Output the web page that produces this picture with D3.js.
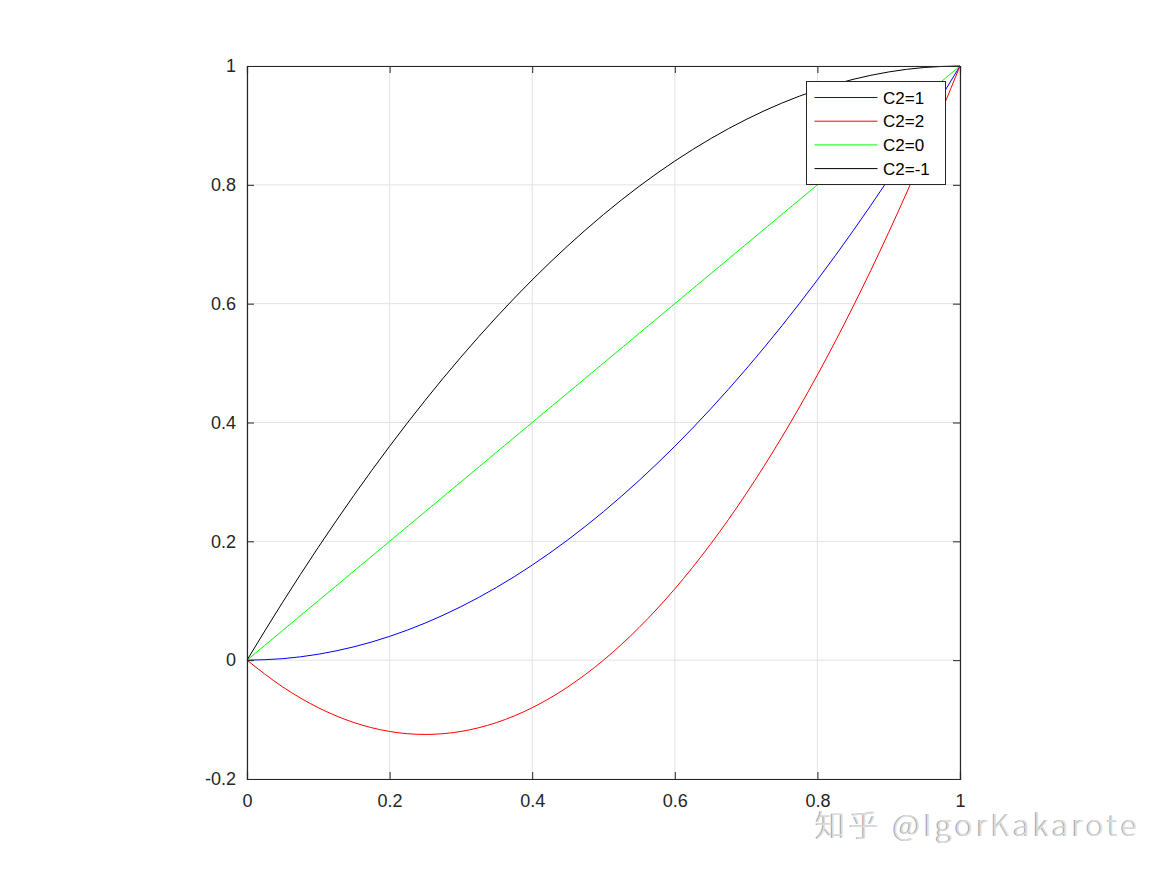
<!DOCTYPE html>
<html lang="en">
  <head>
    <meta charset="UTF-8" />
    <title>C2 curves</title>
    <style>
      body { margin: 0; background: #fff; }
      svg { display: block; font-family: "Liberation Sans", Arial, sans-serif; }
    </style>
  </head>
  <body>
    <div id="chart"></div>
    <script src="https://d3js.org/d3.v7.min.js"></script>
    <script>
      const xs = [0, 0.05, 0.1, 0.15, 0.2, 0.25, 0.3, 0.35, 0.4, 0.45, 0.5,
                  0.55, 0.6, 0.65, 0.7, 0.75, 0.8, 0.85, 0.9, 0.95, 1];
      const c2One = [0, 0.0025, 0.01, 0.0225, 0.04, 0.0625, 0.09, 0.1225, 0.16, 0.2025, 0.25,
                     0.3025, 0.36, 0.4225, 0.49, 0.5625, 0.64, 0.7225, 0.81, 0.9025, 1];
      const c2Two = [0, -0.045, -0.08, -0.105, -0.12, -0.125, -0.12, -0.105, -0.08, -0.045, 0,
                     0.055, 0.12, 0.195, 0.28, 0.375, 0.48, 0.595, 0.72, 0.855, 1];
      const c2Zero = [0, 0.05, 0.1, 0.15, 0.2, 0.25, 0.3, 0.35, 0.4, 0.45, 0.5,
                      0.55, 0.6, 0.65, 0.7, 0.75, 0.8, 0.85, 0.9, 0.95, 1];
      const c2MinusOne = [0, 0.0975, 0.19, 0.2775, 0.36, 0.4375, 0.51, 0.5775, 0.64, 0.6975, 0.75,
                          0.7975, 0.84, 0.8775, 0.91, 0.9375, 0.96, 0.9775, 0.99, 0.9975, 1];
      const seriesNames = ["C2=1", "C2=2", "C2=0", "C2=-1"];
      const seriesColors = ["#0000ff", "#ff0000", "#00ff00", "#000000"];
      const xTicks = [0, 0.2, 0.4, 0.6, 0.8, 1];
      const yTicks = [-0.2, 0, 0.2, 0.4, 0.6, 0.8, 1];

      const series = [c2One, c2Two, c2Zero, c2MinusOne].map((ys, i) => ({
        name: seriesNames[i],
        color: seriesColors[i],
        points: xs.map((x, j) => [x, ys[j]])
      }));

      const W = 1167, H = 875;
      const plotL = 247, plotR = 960, plotT = 66, plotB = 779;

      const x = d3.scaleLinear().domain([0, 1]).range([plotL, plotR]);
      const y = d3.scaleLinear().domain([-0.2, 1]).range([plotB, plotT]);
      const fmt = d => String(+d.toFixed(1)); // plain hyphen minus, like MATLAB

      const svg = d3.select("#chart").append("svg")
        .attr("width", W).attr("height", H);

      // grid
      svg.append("g").selectAll("line").data(xTicks).join("line")
        .attr("x1", d => x(d)).attr("x2", d => x(d))
        .attr("y1", plotT).attr("y2", plotB)
        .attr("stroke", "#e3e3e3").attr("stroke-width", 1);
      svg.append("g").selectAll("line").data(yTicks).join("line")
        .attr("y1", d => y(d)).attr("y2", d => y(d))
        .attr("x1", plotL).attr("x2", plotR)
        .attr("stroke", "#e3e3e3").attr("stroke-width", 1);

      // curves
      const line = d3.line().x(d => x(d[0])).y(d => y(d[1])).curve(d3.curveMonotoneX);
      svg.append("g").selectAll("path").data(series).join("path")
        .attr("fill", "none")
        .attr("stroke", d => d.color)
        .attr("stroke-width", 1)
        .attr("d", d => line(d.points));

      // axes (ticks inward, box on)
      const tickLen = 7;
      const xAxis = svg.append("g").attr("transform", `translate(0,${plotB})`)
        .call(d3.axisBottom(x).tickValues(xTicks).tickSize(-tickLen).tickPadding(15)
          .tickFormat(fmt));
      const xTop = svg.append("g").attr("transform", `translate(0,${plotT})`)
        .call(d3.axisTop(x).tickValues(xTicks).tickSize(-tickLen).tickFormat(""));
      const yAxis = svg.append("g").attr("transform", `translate(${plotL},0)`)
        .call(d3.axisLeft(y).tickValues(yTicks).tickSize(-tickLen).tickPadding(11)
          .tickFormat(fmt));
      const yRight = svg.append("g").attr("transform", `translate(${plotR},0)`)
        .call(d3.axisRight(y).tickValues(yTicks).tickSize(-tickLen).tickFormat(""));

      [xAxis, xTop, yAxis, yRight].forEach(g => {
        g.attr("font-size", null).attr("font-family", null);
        g.select(".domain").attr("stroke", "#262626").attr("stroke-width", 1.2);
        g.selectAll(".tick line").attr("stroke", "#262626");
        g.selectAll(".tick text").attr("fill", "#262626")
          .style("font-size", "18px").style("font-family", "'Liberation Sans', Arial, sans-serif");
      });

      // legend
      const lg = svg.append("g").attr("transform", "translate(806.5,81.5)");
      lg.append("rect").attr("width", 139).attr("height", 103)
        .attr("fill", "#fff").attr("stroke", "#262626").attr("stroke-width", 1);
      const rows = lg.selectAll("g.row").data(series).join("g")
        .attr("class", "row")
        .attr("transform", (d, i) => `translate(0,${16 + i * 23.7})`);
      rows.append("line").attr("x1", 8).attr("x2", 71)
        .attr("stroke", d => d.color).attr("stroke-width", 1);
      rows.append("text").attr("x", 76.5).attr("dy", "0.36em")
        .style("font-size", "17px").attr("fill", "#000")
        .text(d => d.name);

      // watermark (light text with a soft grey edge)
      const wm = svg.append("g")
        .style("font-family", "'Noto Sans CJK SC', sans-serif")
        .style("font-weight", 300)
        .style("font-size", "30px").style("letter-spacing", "3.6px")
        .attr("text-anchor", "end");
      wm.append("text").attr("x", 1139.4).attr("y", 836)
        .attr("fill", "#a9a9a9")
        .text("知乎 @IgorKakarote");
      wm.append("text").attr("x", 1140.6).attr("y", 836.2)
        .attr("fill", "#dedede")
        .text("知乎 @IgorKakarote");
    </script>
  </body>
</html>
